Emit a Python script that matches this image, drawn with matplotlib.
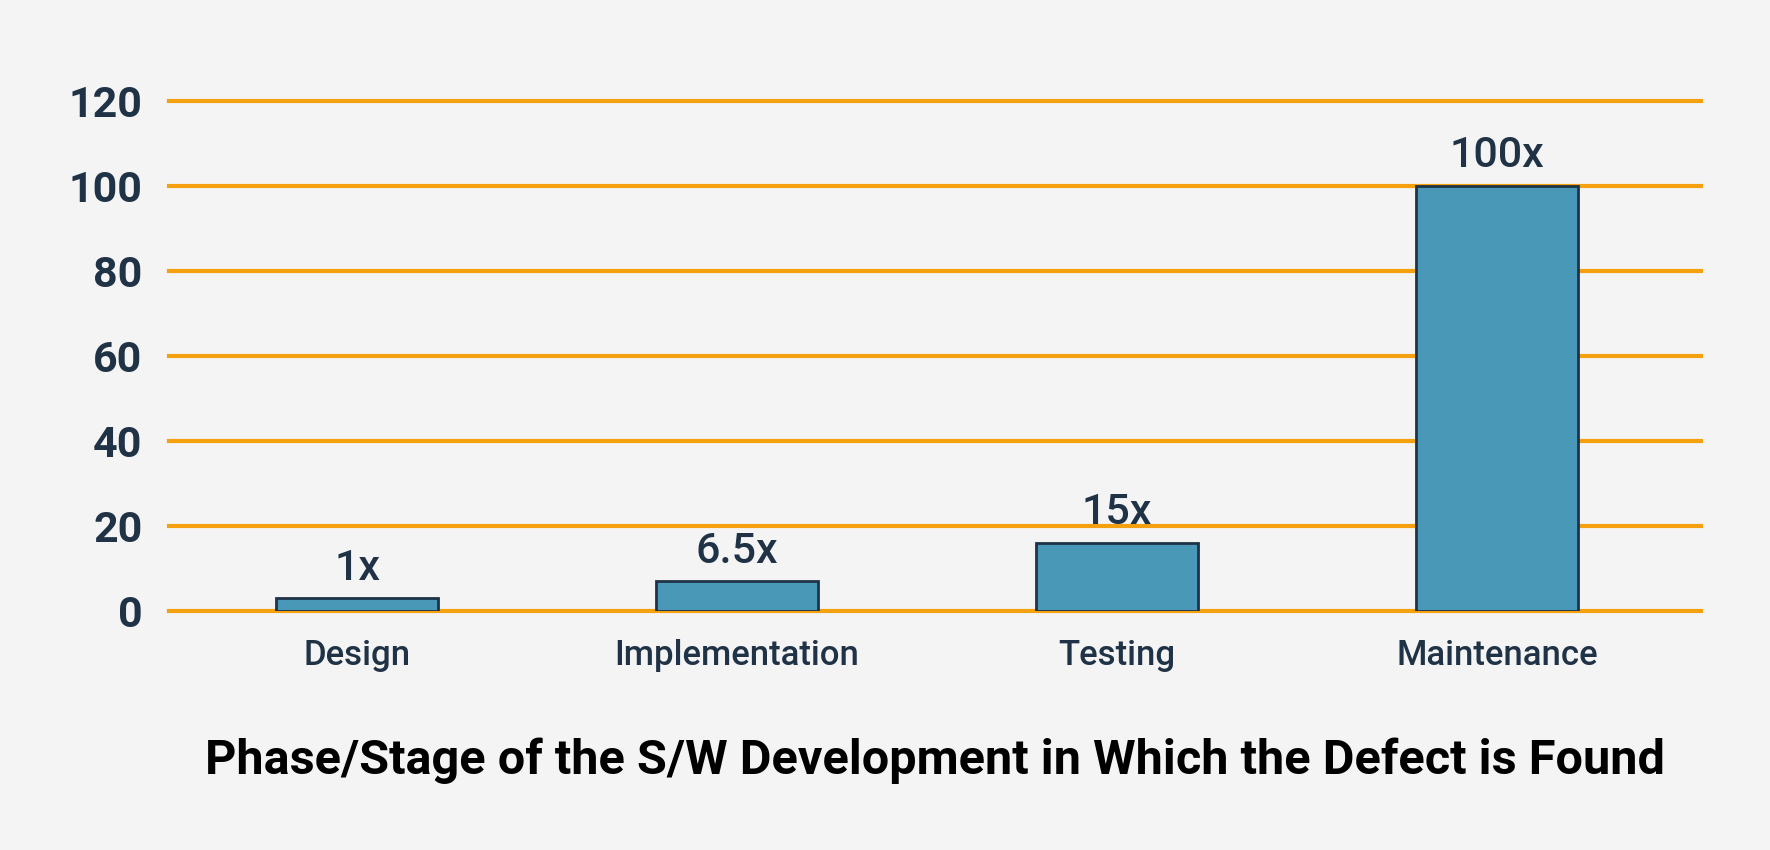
import matplotlib
matplotlib.use("Agg")
import matplotlib.pyplot as plt

# Chart data
phases = ["Design", "Implementation", "Testing", "Maintenance"]
bar_heights = [3, 7, 16, 100]
cost_labels = ["1x", "6.5x", "15x", "100x"]
y_ticks = [0, 20, 40, 60, 80, 100, 120]

BG = "#f4f4f4"
NAVY = "#1f3246"
ORANGE = "#f5a10f"
BAR = "#4a98b8"

plt.rcParams["font.family"] = ["Roboto", "DejaVu Sans"]

fig = plt.figure(figsize=(17.7, 8.5), dpi=100, facecolor=BG)
ax = fig.add_axes([169 / 1770, 0.2812, (1701 - 169) / 1770, 0.60])
ax.set_facecolor(BG)

x = list(range(len(phases)))
bars = ax.bar(x, bar_heights, width=0.425, color=BAR, edgecolor=NAVY,
              linewidth=2, zorder=3)

for rect, lab in zip(bars, cost_labels):
    ax.annotate(lab, (rect.get_x() + rect.get_width() / 2, rect.get_height()),
                xytext=(0, 7), textcoords="offset points", ha="center",
                va="bottom", fontsize=31, fontweight="medium", color=NAVY)

ax.set_xlim(-0.495, 3.537)
ax.set_ylim(0, 120)
ax.set_yticks(y_ticks)
ax.set_xticks(x)
ax.set_xticklabels(phases)
ax.yaxis.grid(True, color=ORANGE, linewidth=3, zorder=0)
for gl in ax.get_ygridlines():
    gl.set_clip_on(False)
ax.set_axisbelow(True)
for s in ax.spines.values():
    s.set_visible(False)
ax.tick_params(axis="y", length=0, pad=19, labelsize=31, labelcolor=NAVY)
ax.tick_params(axis="x", length=0, pad=20, labelsize=25, labelcolor=NAVY)
for t in ax.get_yticklabels():
    t.set_fontweight("bold")
for t in ax.get_xticklabels():
    t.set_fontweight("medium")

ax.set_xlabel("Phase/Stage of the S/W Development in Which the Defect is Found",
              fontsize=35, fontweight="bold", color="black", labelpad=47)

fig.savefig("out.png", dpi=100, facecolor=BG)
